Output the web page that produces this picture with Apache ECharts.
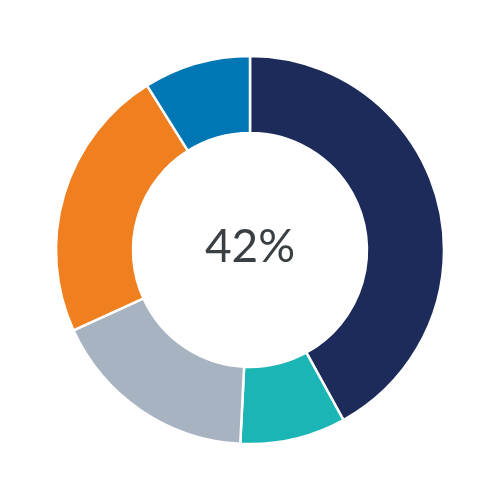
<!DOCTYPE html>
<html><head><meta charset="utf-8">
<script src="https://cdn.jsdelivr.net/npm/echarts@6/dist/echarts.min.js"></script>
<style>html,body{margin:0;padding:0;background:#fff}#c{width:500px;height:500px}</style>
</head><body><div id="c"></div>
<script>
const categories = ['A','B','C','D','E'];
const values = [42, 8.8, 17.4, 22.9, 8.9];
const colors = ['#1d2b5a','#1cb5b5','#a8b3c1','#f07f1f','#0077b5'];
const centerLabel = '42%';

const chart = echarts.init(document.getElementById('c'), null, {renderer:'canvas'});
chart.setOption({
  animation:false,
  graphic:[{type:'text', left:'center', top:224, style:{text:centerLabel, font:'400 46px Lato', fill:'#3a3f44', textAlign:'center'}}],
  series:[{
    type:'pie', center:[250,250], radius:[117,194], startAngle:90, clockwise:true,
    label:{show:false}, labelLine:{show:false},
    itemStyle:{borderColor:'#fff', borderWidth:2.5},
    data: categories.map((c,i)=>({name:c, value:values[i], itemStyle:{color:colors[i]}}))
  }]
});
</script></body></html>
